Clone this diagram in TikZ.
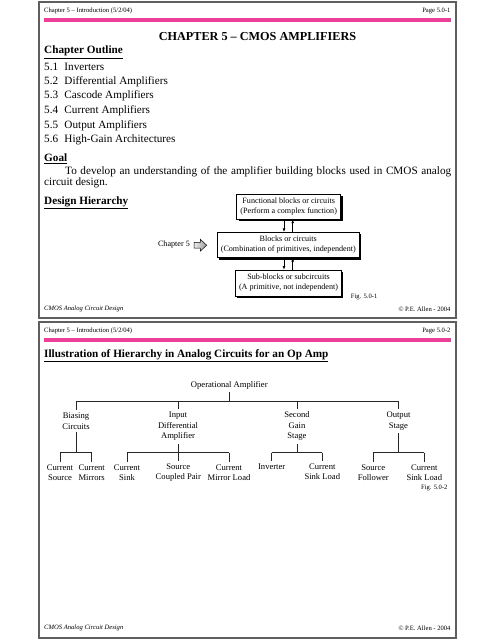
\documentclass[tikz,border=0pt]{standalone}
\usepackage{fontspec}
\setmainfont{Liberation Serif}
\usetikzlibrary{arrows.meta,shadows}
\definecolor{pinkbar}{RGB}{236,64,152}
\definecolor{framegray}{RGB}{95,95,95}
\begin{document}
\begin{tikzpicture}[x=1pt,y=-1pt,
  hdr/.style={font=\fontsize{6.6}{8}\selectfont, inner sep=0pt},
  ftr/.style={font=\fontsize{6.6}{8}\selectfont\itshape, inner sep=0pt},
  body/.style={font=\fontsize{11.2}{14}\selectfont, inner sep=0pt},
  hbold/.style={font=\fontsize{11.2}{14}\selectfont\bfseries, inner sep=0pt},
  hbox/.style={draw, line width=0.7pt, fill=white, align=center,
    font=\fontsize{8.1}{10}\selectfont,
    drop shadow={shadow xshift=1.8pt, shadow yshift=-1.8pt, opacity=1, fill=black}},
  tnode/.style={align=center, font=\fontsize{8.6}{10.5}\selectfont, inner sep=3pt},
  tnodeb/.style={align=center, font=\fontsize{8.6}{10.3}\selectfont, inner sep=3pt},
  tline/.style={line width=0.9pt, draw=black!85},
  arr/.style={-{Latex[length=3.5pt,width=2.8pt]}, line width=0.6pt},
  framebox/.style={draw=framegray, line width=1.3pt},
]
\useasboundingbox (0,0) rectangle (495,640);
\fill[white] (0,0) rectangle (495,640);

%% ---------------- Page 1 ----------------
\draw[framebox] (39,2) rectangle (456,318);
\node[hdr, anchor=west] (h1l) at (44,10.7) {Chapter 5 – Introduction (5/2/04)};
\node[hdr, anchor=east] (h1r) at (450.7,10.7) {Page 5.0-1};
\fill[pinkbar] (44,18.3) rectangle (451,21.7);
\node[font=\fontsize{12.2}{14}\selectfont\bfseries, inner sep=0pt] (t1) at (257.5,36.7) {CHAPTER 5 – CMOS AMPLIFIERS};
\node[hbold, anchor=west] (co) at (44,52.3) {\underline{Chapter Outline}};
\node[body, anchor=west] (i1) at (44,66.7) {\makebox[20.3pt][l]{5.1}Inverters};
\node[body, anchor=west] (i2) at (44,81.3) {\makebox[20.3pt][l]{5.2}Differential Amplifiers};
\node[body, anchor=west] (i3) at (44,96.0) {\makebox[20.3pt][l]{5.3}Cascode Amplifiers};
\node[body, anchor=west] (i4) at (44,110.7) {\makebox[20.3pt][l]{5.4}Current Amplifiers};
\node[body, anchor=west] (i5) at (44,125.3) {\makebox[20.3pt][l]{5.5}Output Amplifiers};
\node[body, anchor=west] (i6) at (44,140.0) {\makebox[20.3pt][l]{5.6}High-Gain Architectures};
\node[hbold, anchor=west] (goal) at (44,158.5) {\underline{Goal}};
\node[inner sep=0pt, anchor=north west, text width=407pt, align=justify,
  font=\fontsize{11.2}{10.7}\selectfont] (gp) at (44,166.8)
  {\hspace*{21pt}To develop an understanding of the amplifier building blocks used in CMOS analog circuit design.};
\node[hbold, anchor=west] (dh) at (44,202.7) {\underline{Design Hierarchy}};

\node[hbox, minimum width=104pt, minimum height=25pt] (b1) at (288.7,206.8)
  {Functional blocks or circuits\\(Perform a complex function)};
\node[hbox, minimum width=142pt, minimum height=25.4pt] (b2) at (288.3,245)
  {Blocks or circuits\\(Combination of primitives, independent)};
\node[hbox, minimum width=104.4pt, minimum height=26pt] (b3) at (288.5,283)
  {Sub-blocks or subcircuits\\(A primitive, not independent)};
\coordinate (xd) at (284,0);
\coordinate (xu) at (292.7,0);
\draw[arr] (b1.south -| xd) -- (b2.north -| xd);
\draw[arr] (b2.north -| xu) -- (b1.south -| xu);
\draw[arr] (b2.south -| xd) -- (b3.north -| xd);
\draw[arr] (b3.north -| xu) -- (b2.south -| xu);

\node[font=\fontsize{8.1}{10}\selectfont, anchor=east, inner sep=0pt] (ch5) at (190,245) {Chapter 5};
\draw[line width=0.5pt, left color=gray!15, right color=gray!80]
  (194,242.3) -- (200.3,242.3) -- (200.3,239.3) -- (206.7,245.2) -- (200.3,251.1) -- (200.3,248.1) -- (194,248.1) -- cycle;

\node[hdr, anchor=west] (fig1) at (350.7,297.3) {Fig. 5.0-1};
\node[ftr, anchor=west] (f1l) at (44,309) {CMOS Analog Circuit Design};
\node[hdr, anchor=east] (f1r) at (450.7,309) {© P.E. Allen - 2004};

%% ---------------- Page 2 ----------------
\draw[framebox] (39,322) rectangle (456,638);
\node[hdr, anchor=west] (h2l) at (44,330.7) {Chapter 5 – Introduction (5/2/04)};
\node[hdr, anchor=east] (h2r) at (450.7,330.7) {Page 5.0-2};
\fill[pinkbar] (44,338.3) rectangle (451,341.7);
\node[hbold, anchor=west] (t2) at (44,356) {\underline{Illustration of Hierarchy in Analog Circuits for an Op Amp}};

\node[tnode, inner sep=2pt] (op) at (229.3,385.7) {Operational Amplifier};
\node[tnode] (bias) at (76,421) {Biasing\\Circuits};
\node[tnode] (inp) at (178,426.2) {Input\\Differential\\Amplifier};
\node[tnode] (sec) at (297,426.2) {Second\\Gain\\Stage};
\node[tnode] (outp) at (398.5,421) {Output\\Stage};

\node[tnodeb] (cs) at (60,472.9) {Current\\Source};
\node[tnodeb] (cm) at (91.7,472.9) {Current\\Mirrors};
\node[tnodeb] (csk) at (127,472.9) {Current\\Sink};
\node[tnodeb] (scp) at (178.3,472.9) {Source\\Coupled Pair};
\node[tnodeb] (cml) at (229,472.9) {Current\\Mirror Load};
\node[tnodeb] (inv) at (271.7,466.7) {Inverter};
\node[tnodeb] (csl) at (322.3,471.9) {Current\\Sink Load};
\node[tnodeb] (sf) at (373.3,472.9) {Source\\Follower};
\node[tnodeb] (csl2) at (424.3,472.9) {Current\\Sink Load};

\coordinate (bus1) at (0,401);
\coordinate (bus2) at (0,452.7);
\draw[tline] (op.south) -- (op.south |- bus1);
\draw[tline] (bias.north |- bus1) -- (outp.north |- bus1);
\foreach \n in {bias,inp,sec,outp} \draw[tline] (\n.north |- bus1) -- (\n.north);

\draw[tline] (bias.south) -- (bias.south |- bus2);
\draw[tline] (cs.north |- bus2) -- (cm.north |- bus2);
\draw[tline] (inp.south) -- (inp.south |- bus2);
\draw[tline] (csk.north |- bus2) -- (cml.north |- bus2);
\draw[tline] (sec.south) -- (sec.south |- bus2);
\draw[tline] (inv.north |- bus2) -- (csl.north |- bus2);
\draw[tline] (outp.south) -- (outp.south |- bus2);
\draw[tline] (sf.north |- bus2) -- (csl2.north |- bus2);
\foreach \n in {cs,cm,csk,scp,cml,inv,csl,sf,csl2} \draw[tline] (\n.north |- bus2) -- (\n.north);

\node[hdr, anchor=east] (fig2) at (447.7,488.3) {Fig. 5.0-2};
\node[ftr, anchor=west] (f2l) at (44,628.3) {CMOS Analog Circuit Design};
\node[hdr, anchor=east] (f2r) at (450.7,628.3) {© P.E. Allen - 2004};
\end{tikzpicture}
\end{document}
